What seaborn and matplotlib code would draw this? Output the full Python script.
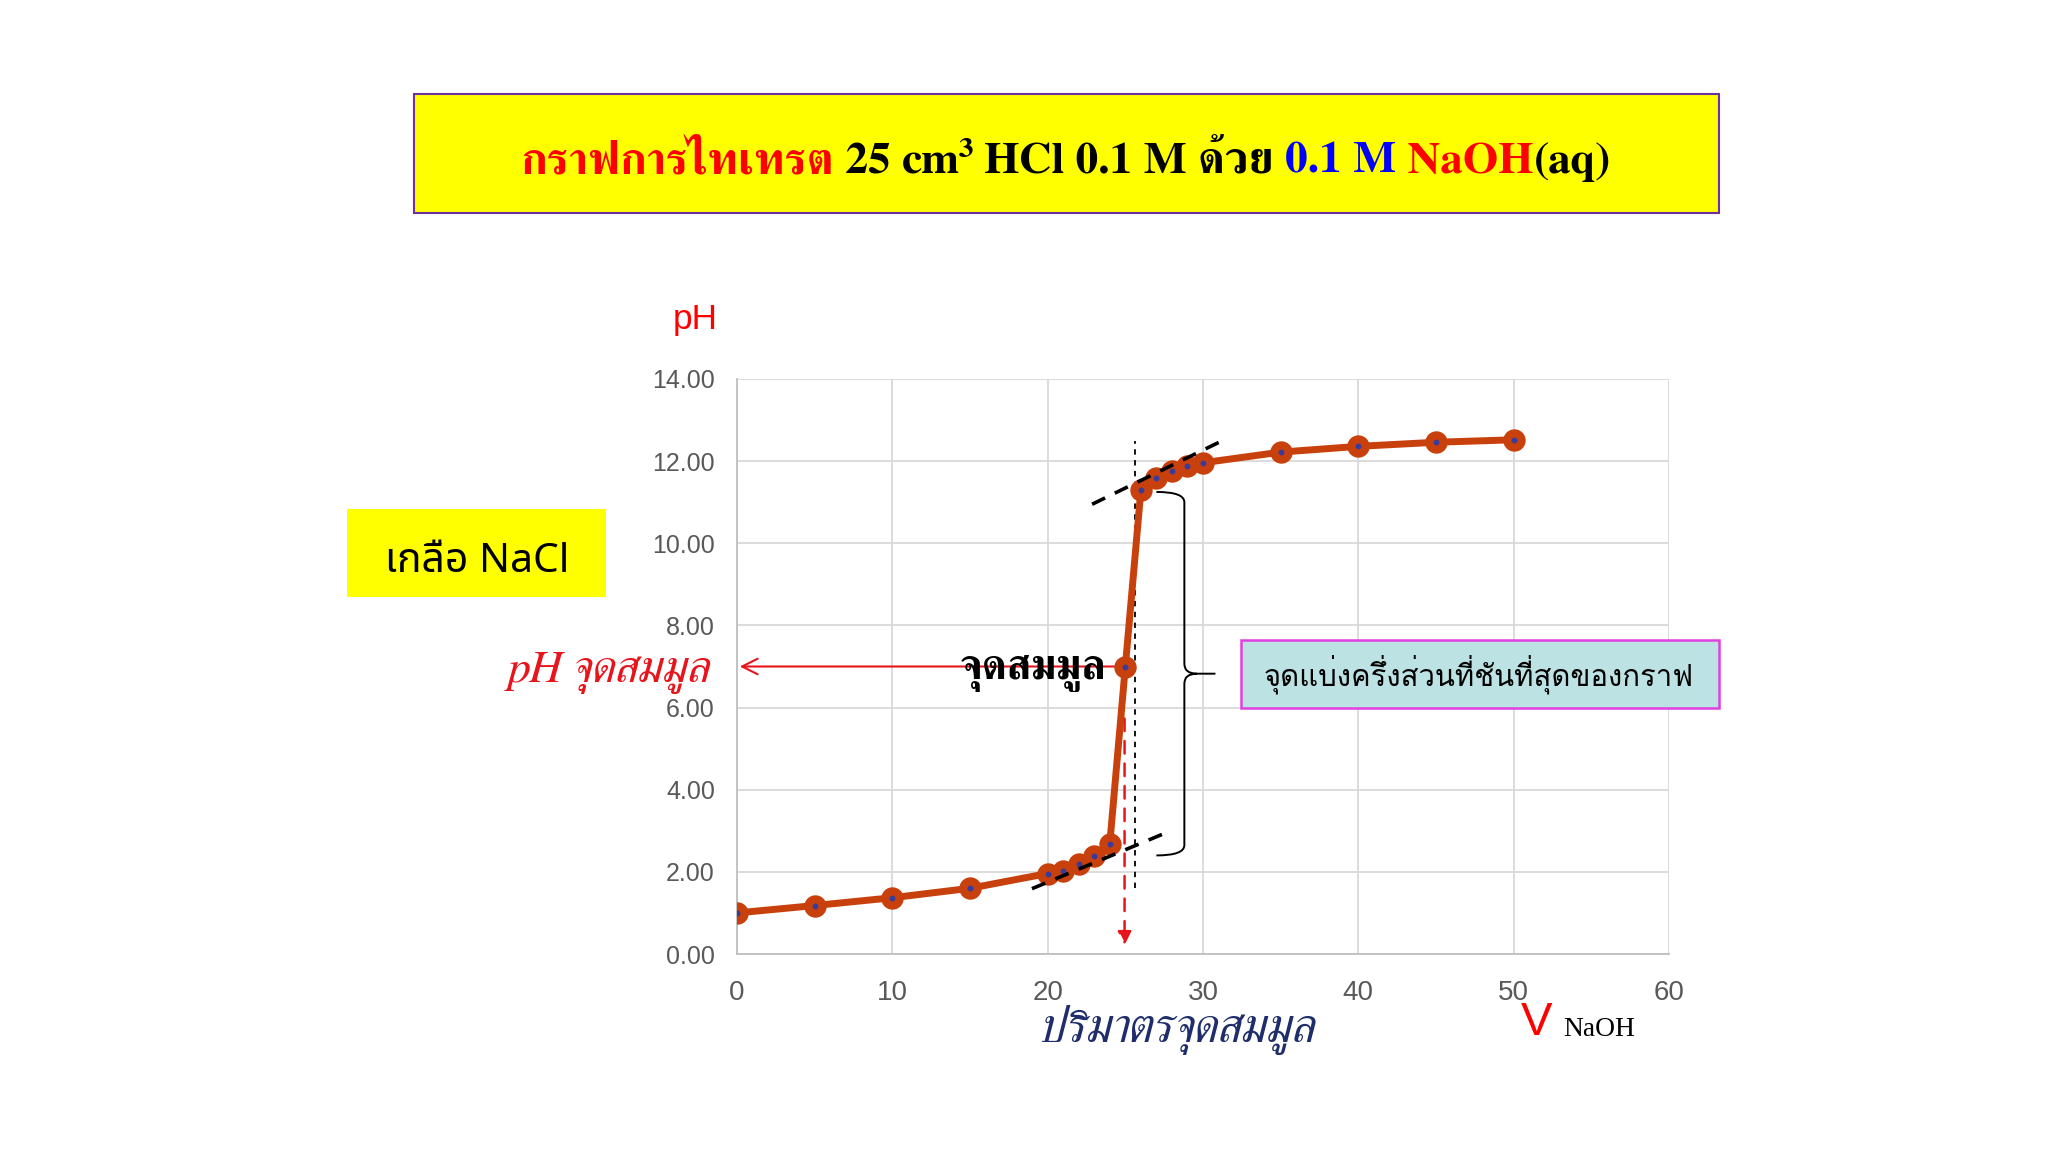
import numpy as np
import pandas as pd
import matplotlib
matplotlib.use("Agg")
import matplotlib.pyplot as plt
from matplotlib.patches import Rectangle, PathPatch
from matplotlib.path import Path
import seaborn as sns

# ---------------- data ----------------
volume_naoh = [0, 5, 10, 15, 20, 21, 22, 23, 24, 25, 26, 27, 28, 29, 30, 35, 40, 45, 50]
ph_values = [1.00, 1.18, 1.37, 1.60, 1.96, 2.02, 2.20, 2.38, 2.69, 7.00,
             11.29, 11.59, 11.75, 11.87, 11.96, 12.22, 12.36, 12.46, 12.52]
x_ticks = [0, 10, 20, 30, 40, 50, 60]
y_ticks = [0, 2, 4, 6, 8, 10, 12, 14]
y_tick_labels = ["0.00", "2.00", "4.00", "6.00", "8.00", "10.00", "12.00", "14.00"]
equiv_volume = 25
equiv_ph = 7.00

title_parts = ["กราฟการไทเทรต", " 25 cm³ HCl 0.1 M ด้วย ", "0.1 M", " NaOH", "(aq)"]
title_colors = ["#FF0000", "black", "#0000FF", "#FF0000", "black"]

sns.set_theme(style="whitegrid")
LATIN_SANS = ["Liberation Sans", "DejaVu Sans"]
SANS_TH = ["Noto Sans Thai", "Noto Sans", "DejaVu Sans"]
LOMA_TH = ["Loma", "Noto Sans", "DejaVu Sans"]
SERIF_TH = ["FreeSerif", "DejaVu Serif"]
plt.rcParams['font.family'] = SANS_TH

df = pd.DataFrame({"V": volume_naoh, "pH": ph_values})

W, H = 2048, 1152
fig = plt.figure(figsize=(W / 100, H / 100), dpi=100)
fig.patch.set_facecolor("white")
ax = fig.add_axes([737 / W, 1 - 954 / H, 932 / W, 575 / H])

line_col = "#C8400C"
sns.lineplot(data=df, x="V", y="pH", ax=ax, color=line_col, linewidth=5, zorder=3)
sns.scatterplot(data=df, x="V", y="pH", ax=ax, color=line_col, s=260, linewidth=0, zorder=4)
sns.scatterplot(data=df, x="V", y="pH", ax=ax, color="#3A3A9A", s=18, linewidth=0, zorder=5)

ax.set_xlim(0, 60)
ax.set_ylim(0, 14)
ax.set_xticks(x_ticks)
ax.set_yticks(y_ticks)
ax.set_yticklabels(y_tick_labels)
ax.tick_params(axis='x', labelsize=20, labelcolor="#595959", pad=19, length=0)
ax.tick_params(axis='y', labelsize=18, labelcolor="#595959", pad=16, length=0)
for lab in ax.get_xticklabels() + ax.get_yticklabels():
    lab.set_fontfamily(LATIN_SANS)
ax.set_xlabel("")
ax.set_ylabel("")
ax.grid(True, color="#D9D9D9", linewidth=1.3)
ax.set_facecolor("white")
for side in ["top", "right"]:
    ax.spines[side].set_visible(False)
for side in ["left", "bottom"]:
    ax.spines[side].set_color("#BFBFBF")
    ax.spines[side].set_linewidth(1.3)

# arrow from equivalence point to the y axis
ax.annotate("", xy=(0, equiv_ph), xytext=(equiv_volume, equiv_ph),
            arrowprops=dict(arrowstyle="->", color="#E8141B", lw=1.5, mutation_scale=28),
            zorder=2)
# dashed red arrow down to the x axis
ax.annotate("", xy=(equiv_volume - 0.05, 0.15), xytext=(equiv_volume - 0.05, 5.8),
            arrowprops=dict(arrowstyle="-|>", color="#E8141B", lw=1.8, linestyle=(0, (5, 4)),
                            mutation_scale=20), zorder=2)
# dotted black vertical line
ax.plot([25.6, 25.6], [1.6, 12.5], color="black", lw=1.3, linestyle=(0, (3, 3)), zorder=2)
# tangent lines
ax.plot([22.86, 31.09], [10.95, 12.47], color="black", lw=2.6, linestyle=(0, (4, 3)), zorder=6)
ax.plot([18.99, 27.48], [1.59, 2.93], color="black", lw=2.6, linestyle=(0, (4, 3)), zorder=6)


def brace(ax, x0, xm, xt, y_top, y_bot):
    ym = (y_top + y_bot) / 2
    c = 0.25
    verts = [(x0, y_top), (xm, y_top), (xm, y_top - c),
             (xm, ym + c),
             (xm, ym), (xt - (xt - xm) * 0.6, ym), (xt, ym),
             (xt - (xt - xm) * 0.6, ym), (xm, ym), (xm, ym - c),
             (xm, y_bot + c),
             (xm, y_bot), (x0, y_bot), (x0, y_bot)]
    codes = [Path.MOVETO, Path.CURVE3, Path.CURVE3,
             Path.LINETO,
             Path.CURVE3, Path.CURVE3, Path.LINETO,
             Path.MOVETO, Path.CURVE3, Path.CURVE3,
             Path.LINETO,
             Path.CURVE3, Path.CURVE3, Path.LINETO]
    ax.add_patch(PathPatch(Path(verts, codes), fill=False, lw=1.4, color="black", zorder=6,
                           clip_on=False))


brace(ax, 27.0, 28.8, 30.8, 11.25, 2.4)

renderer = fig.canvas.get_renderer()


def fit(t, width_px):
    w = t.get_window_extent(renderer).width
    t.set_fontsize(t.get_fontsize() * width_px / w)
    return t


def fx(px): return px / W
def fy(py): return 1 - py / H


# equivalence label inside chart
t = fig.text(fx(1033), fy(673), "จุดสมมูล", fontsize=30, fontweight="bold", color="black",
             ha="center", va="center", family=SERIF_TH, zorder=7)
fit(t, 146)

# title box
fig.patches.append(Rectangle((fx(414), fy(213)), (1719 - 414) / W, (213 - 94) / H,
                             transform=fig.transFigure, facecolor="#FFFF00",
                             edgecolor="#7030A0", lw=1.5))
texts = []
for s, c in zip(title_parts, title_colors):
    texts.append(fig.text(0, fy(162), s, color=c, fontsize=32, fontweight="bold",
                          family=SERIF_TH, va="center", ha="left"))
widths = [tt.get_window_extent(renderer).width for tt in texts]
scale = 1091 / sum(widths)
for tt in texts:
    tt.set_fontsize(32 * scale)
widths = [tt.get_window_extent(renderer).width for tt in texts]
start = 1066 - sum(widths) / 2
for tt, w in zip(texts, widths):
    tt.set_x(fx(start))
    start += w

t = fig.text(fx(695), fy(319), "pH", color="#FF0000", fontsize=23, ha="center", va="center",
             family=LATIN_SANS)
fit(t, 45)

fig.patches.append(Rectangle((fx(347), fy(597)), (606 - 347) / W, (597 - 509) / H,
                             transform=fig.transFigure, facecolor="#FFFF00", edgecolor="none"))
t = fig.text(fx(477), fy(562), "เกลือ NaCl", color="black", fontsize=28, ha="center",
             va="center", family=SANS_TH)
fit(t, 184)

t = fig.text(fx(712), fy(673), "pH จุดสมมูล", color="#E8141B", fontsize=27, style="italic",
             ha="right", va="center", family=SERIF_TH)
fit(t, 204)

fig.patches.append(Rectangle((fx(1241), fy(708)), (1719 - 1241) / W, (708 - 640) / H,
                             transform=fig.transFigure, facecolor="#BDE2E4",
                             edgecolor="#E040E0", lw=1.8))
t = fig.text(fx(1479), fy(674), "จุดแบ่งครึ่งส่วนที่ชันที่สุดของกราฟ", color="black", fontsize=22,
             ha="center", va="center", family=LOMA_TH)
fit(t, 430)

t = fig.text(fx(1179), fy(1030), "ปริมาตรจุดสมมูล", color="#1F2E6B", fontsize=30,
             style="italic", ha="center", va="center", family=SERIF_TH)
fit(t, 275)
fig.text(fx(1537), fy(1023), "V", color="#FF0000", fontsize=34, ha="center", va="center",
         family=LATIN_SANS)
t = fig.text(fx(1599), fy(1030), "NaOH", color="black", fontsize=19, ha="center", va="center",
             family=["Liberation Serif", "DejaVu Serif"])
fit(t, 72)

fig.savefig("out.png", dpi=100, facecolor="white")
